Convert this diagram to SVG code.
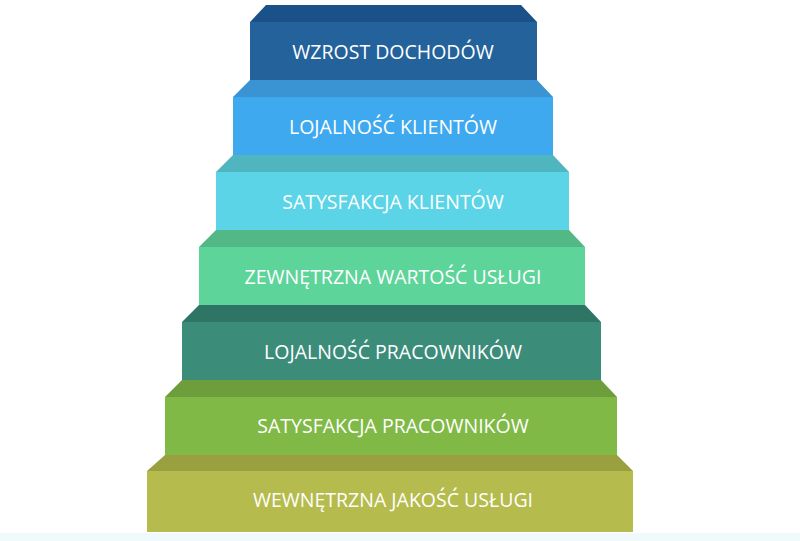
<svg xmlns="http://www.w3.org/2000/svg" width="800" height="541" viewBox="0 0 800 541">
<style>
text{font-family:"Open Sans","Liberation Sans",sans-serif;font-size:19.5px;fill:#fff;text-anchor:middle;dominant-baseline:central}
</style>
<rect width="800" height="541" fill="#fff"/>
<rect y="533" width="800" height="8" fill="#f0f9fc"/>
<g id="step1"><polygon points="266,5 521,5 537,22 250,22" fill="#1b5189"/><rect x="250" y="22" width="287" height="58" fill="#23629a"/><text x="393" y="51">WZROST DOCHODÓW</text></g>
<g id="step2"><polygon points="250,80 537,80 553,97 233,97" fill="#3a93d3"/><rect x="233" y="97" width="320" height="58" fill="#3fa9f0"/><text x="393" y="126">LOJALNOŚĆ KLIENTÓW</text></g>
<g id="step3"><polygon points="233,155 553,155 569,172 216,172" fill="#4fb5bf"/><rect x="216" y="172" width="353" height="58" fill="#5ad4e6"/><text x="393" y="201">SATYSFAKCJA KLIENTÓW</text></g>
<g id="step4"><polygon points="216,230 569,230 585,247 199,247" fill="#52b886"/><rect x="199" y="247" width="386" height="58" fill="#5dd49a"/><text x="393" y="276">ZEWNĘTRZNA WARTOŚĆ USŁUGI</text></g>
<g id="step5"><polygon points="199,305 585,305 601,322 182,322" fill="#2f7566"/><rect x="182" y="322" width="419" height="58" fill="#3c8c7a"/><text x="393" y="351">LOJALNOŚĆ PRACOWNIKÓW</text></g>
<g id="step6"><polygon points="182,380 601,380 617,397 165,397" fill="#6d9e3b"/><rect x="165" y="397" width="452" height="58" fill="#80b946"/><text x="393" y="425">SATYSFAKCJA PRACOWNIKÓW</text></g>
<g id="step7"><polygon points="165,455 617,455 633,471 147,471" fill="#9aa040"/><rect x="147" y="471" width="486" height="61" fill="#b5bb4c"/><text x="393" y="499">WEWNĘTRZNA JAKOŚĆ USŁUGI</text></g>
<g id="connectors"/>
</svg>
